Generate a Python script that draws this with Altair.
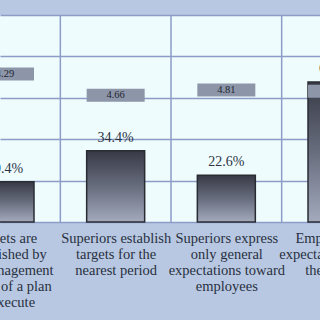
import altair as alt
import pandas as pd

categories = [
    "Targets are|established by|top management|as part of a plan|to execute",
    "Superiors establish|targets for the|nearest period",
    "Superiors express|only general|expectations toward|employees",
    "Employees set|expectations toward|themselves",
]
pct = [19.4, 34.4, 22.6, 67.6]
pct_labels = ["19.4%", "34.4%", "22.6%", "67.6%"]
means = ["4.29", "4.66", "4.81", "4.73"]
mean_pos = [71.5, 61.2, 63.8, 63.2]

idx = list(range(len(categories)))
df = pd.DataFrame({
    "idx": idx,
    "cat": categories,
    "pct": pct,
    "pct_label": pct_labels,
    "mean": means,
    "mean_pos": mean_pos,
})
bounds = pd.DataFrame({"b": [i + 0.5 for i in idx]})

# one category step is 114 px; the first category is centred on the left edge
xscale = alt.Scale(domain=[0, len(categories) - 1], range=[0, 114 * (len(categories) - 1)],
                   nice=False, zero=False)
yscale = alt.Scale(domain=[0, 100], nice=False)

label_js = "[" + ",".join("'" + c + "'" for c in categories) + "]"

grid = alt.Chart(df).mark_rule(opacity=0).encode(
    x=alt.X("idx:Q", scale=xscale,
            axis=alt.Axis(values=idx, labelExpr=f"split({label_js}[datum.value], '|')",
                          ticks=False, domain=False, grid=False, title=None,
                          labelFont="Liberation Serif", labelFontSize=14.5,
                          labelColor="#283040", labelLineHeight=16,
                          labelPadding=9, labelBaseline="top", labelOverlap=False,
                          labelBound=False, labelFlush=False)),
    y=alt.Y("pct:Q", scale=yscale,
            axis=alt.Axis(values=list(range(0, 101, 10)), labels=False, ticks=False,
                          domain=False, grid=True, gridColor="#8c9cc6",
                          gridWidth=1.5, title=None)),
)

vlines = alt.Chart(bounds).mark_rule(color="#8c9cc6", strokeWidth=1.5).encode(
    x=alt.X("b:Q", scale=xscale)
)

bars = alt.Chart(df).mark_bar(
    size=58,
    stroke="#2a2c34",
    strokeWidth=1.5,
    color=alt.Gradient(
        gradient="linear", x1=0, y1=0, x2=0, y2=1,
        stops=[
            alt.GradientStop(color="#373a45", offset=0),
            alt.GradientStop(color="#686d7e", offset=0.5),
            alt.GradientStop(color="#a2aabc", offset=1),
        ],
    ),
).encode(
    x=alt.X("idx:Q", scale=xscale),
    y=alt.Y("pct:Q", scale=yscale),
)

pct_text = alt.Chart(df).mark_text(
    font="Liberation Serif", fontSize=14, color="#2c3446", dy=-9, baseline="alphabetic"
).encode(
    x=alt.X("idx:Q", scale=xscale),
    y=alt.Y("pct:Q", scale=yscale),
    text="pct_label:N",
)

boxes = alt.Chart(df).mark_tick(
    orient="horizontal", size=58, thickness=13, color="#8d95a9", opacity=1
).encode(
    x=alt.X("idx:Q", scale=xscale),
    y=alt.Y("mean_pos:Q", scale=yscale),
)

mean_text = alt.Chart(df).mark_text(
    font="Liberation Serif", fontSize=10.5, color="#222630", baseline="middle"
).encode(
    x=alt.X("idx:Q", scale=xscale),
    y=alt.Y("mean_pos:Q", scale=yscale),
    text="mean:N",
)

chart = alt.layer(grid, vlines, bars, pct_text, boxes, mean_text).properties(
    width=320,
    height=207,
    autosize=alt.AutoSizeParams(type="none"),
    padding={"top": 15, "left": 0, "right": 0, "bottom": 98},
    background="#b8c8e2",
).configure_view(fill="#eefcfd", stroke=None)

chart.save("out.html", embed_options={"renderer": "svg", "actions": False})
